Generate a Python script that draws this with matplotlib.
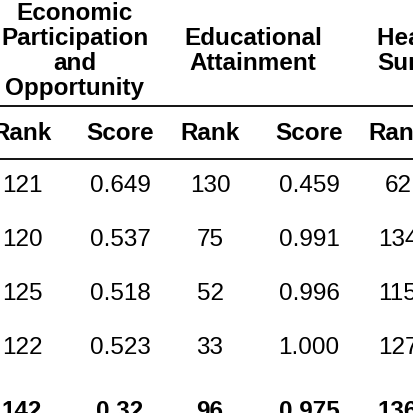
import matplotlib.pyplot as plt

plt.rcParams['font.family'] = ['Liberation Sans', 'DejaVu Sans']

groups = ["Economic\nParticipation\nand\nOpportunity", "Educational\nAttainment"]
sub_headers = ["Rank", "Score", "Rank", "Score", "Rank"]
econ_rank = ["121", "120", "125", "122", "142"]
econ_score = ["0.649", "0.537", "0.518", "0.523", "0.32"]
edu_rank = ["130", "75", "52", "33", "96"]
edu_score = ["0.459", "0.991", "0.996", "1.000", "0.975"]
health_rank = ["62", "134", "115", "127", "136"]

W = H = 413
fig = plt.figure(figsize=(W / 100, H / 100), dpi=100)
ax = fig.add_axes([0, 0, 1, 1])
ax.set_xlim(0, W)
ax.set_ylim(H, 0)
ax.axis('off')

fs = 17.5
col_x = [22, 120, 210, 309, 398]
row_y = [186, 240, 294, 348, 411]

ax.text(75, 51, groups[0], ha='center', va='center', fontsize=fs, fontweight='bold', linespacing=1.1)
ax.text(253, 51, groups[1], ha='center', va='center', fontsize=fs, fontweight='bold', linespacing=1.1)
ax.text(377, 51, "Health and\nSurvival", ha='left', va='center', fontsize=fs, fontweight='bold', linespacing=1.1)

ax.axhline(106, color='black', lw=1.3)
ax.axhline(159, color='black', lw=1.3)

for x, h in zip(col_x, sub_headers):
    ax.text(x, 133, h, ha='center', va='center', fontsize=fs, fontweight='bold')

cols = [econ_rank, econ_score, edu_rank, edu_score, health_rank]
for x, col in zip(col_x, cols):
    for i, (y, v) in enumerate(zip(row_y, col)):
        ax.text(x, y, v, ha='center', va='center', fontsize=fs,
                fontweight='bold' if i == len(col) - 1 else 'normal')

fig.savefig('out.png', dpi=100)
